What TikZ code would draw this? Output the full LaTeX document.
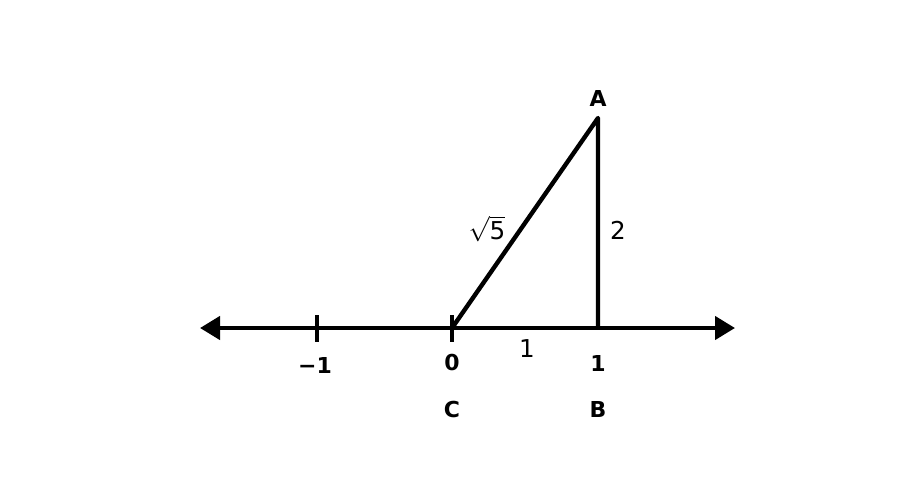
\documentclass[tikz,border=0pt]{standalone}
\usepackage{fontspec}
\setmainfont{DejaVu Sans}
\usetikzlibrary{arrows.meta, positioning}
\tikzstyle{line} = [line width=2.5pt]
\tikzstyle{arrow} = [line width=2.5pt,{Triangle[length=0.4cm,width=0.46cm]}-{Triangle[length=0.4cm,width=0.46cm]}]
\tikzstyle{point} = [font=\fontsize{12.5}{14}\selectfont\bfseries, inner sep=1pt]
\tikzstyle{side} = [font=\fontsize{14}{16}\selectfont, inner sep=1pt]

\begin{document}
\begin{tikzpicture}
\useasboundingbox (0,0) rectangle (18.34,10.04);
% Define points on the number line
\coordinate (left) at (4.0,3.48);
\coordinate (right) at (14.7,3.48);
\coordinate (m) at (6.34,3.48);
\coordinate (c) at (9.04,3.48);
\coordinate (b) at (11.96,3.48);
\coordinate (a) at (11.96,7.68);

% Number line with ticks
\draw [arrow] (left) -- (right);
\draw [line] ([yshift=0.26cm]m) -- ([yshift=-0.28cm]m);
\draw [line] ([yshift=0.26cm]c) -- ([yshift=-0.28cm]c);

% Triangle
\draw [line, line join=round] (c) -- (a) -- (b);

% Labels
\node (lm) [point] at (6.3,2.74) {−1};
\node (l0) [point] at (9.04,2.78) {0};
\node (l1) [point] at (11.96,2.78) {1};
\node (lc) [point] at (9.04,1.86) {C};
\node (lb) [point] at (11.96,1.86) {B};
\node (la) [point] at (11.96,8.08) {A};
\node (one) [side] at (10.54,3.06) {1};
\node (two) [side] at (12.36,5.44) {2};
\node (root) [side] at (9.74,5.46) {$\sqrt{\mbox{5}}$};
\end{tikzpicture}
\end{document}
